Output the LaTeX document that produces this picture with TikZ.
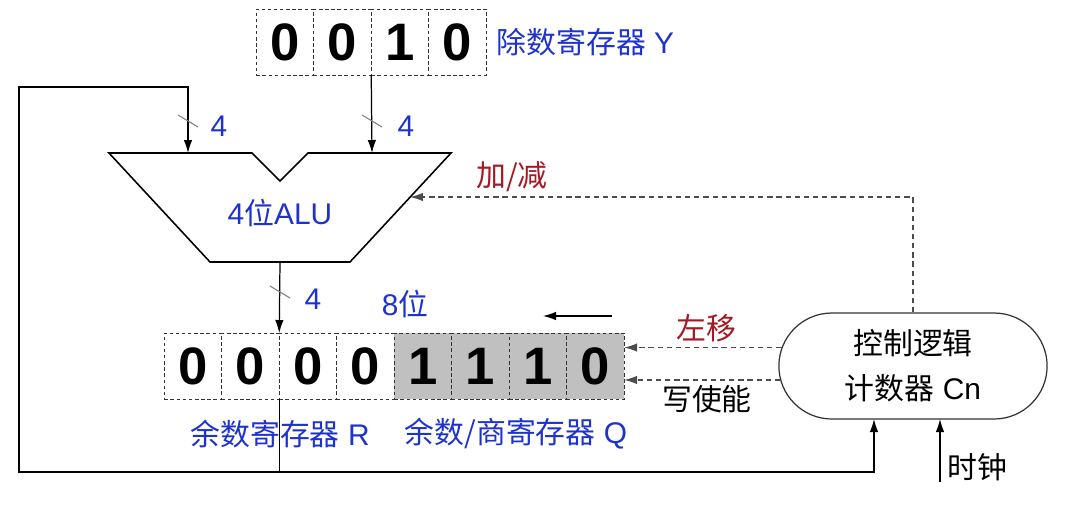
\documentclass[tikz,border=0pt]{standalone}
\usepackage{fontspec}
\setmainfont{Liberation Sans}
\newfontfamily\cjk{Noto Sans CJK SC}
\usepackage{tikz}
\usetikzlibrary{positioning,shapes.misc,arrows.meta}
\definecolor{regblue}{RGB}{30,50,205}
\definecolor{ctlred}{RGB}{165,25,35}
\definecolor{bitgray}{RGB}{192,192,192}

\begin{document}
\begin{tikzpicture}[x=0.02cm, y=-0.02cm, font=\fontsize{17}{25.5}\selectfont]
                \tikzstyle{cell} = [rectangle, draw=black!80, dash pattern=on 2pt off 1.5pt, line width=0.55pt, minimum width=1.15cm, minimum height=1.32cm, inner sep=0pt, outer sep=0pt, font=\fontsize{30}{32}\selectfont\bfseries]
                \tikzstyle{graycell} = [cell, fill=bitgray]
                \tikzstyle{ctlbox} = [rounded rectangle, draw=black!80, line width=0.7pt, minimum width=5.6cm, minimum height=2.12cm, align=center]
                \tikzstyle{blabel} = [text=regblue, inner sep=0pt]
                \tikzstyle{rlabel} = [text=ctlred, inner sep=0pt]
                \tikzstyle{arrow} = [line width=0.7pt, -{Latex[length=2.6mm,width=1.7mm]}]
                \tikzstyle{darrow} = [arrow, draw=black!70, dash pattern=on 3pt off 2.2pt]
                \tikzstyle{busmark} = [draw=gray, line width=0.6pt]
                \useasboundingbox (0,0) rectangle (1080,505);

                % divisor register
                \node (y1) [cell] at (285,42) {0};
                \node (y2) [cell, right=0pt of y1] {0};
                \node (y3) [cell, right=0pt of y2] {1};
                \node (y4) [cell, right=0pt of y3] {0};
                \node (ylab) [blabel, right=0.2cm of y4] {{\cjk 除数寄存器} Y};

                % ALU
                \draw [line width=0.9pt] (109,153) -- (252,153) -- (280,181) -- (308,153) -- (451,153) -- (350,262) -- (210,262) -- cycle;
                \node (alu) [blabel] at (280,213) {4{\cjk 位}ALU};
                \coordinate (inA) at (188,153);
                \coordinate (inB) at (372,153);
                \coordinate (aluout) at (280,262);
                \coordinate (addsub) at (410,197);

                % remainder / quotient register
                \node (r1) [cell] at (193,366) {0};
                \node (r2) [cell, right=0pt of r1] {0};
                \node (r3) [cell, right=0pt of r2] {0};
                \node (r4) [cell, right=0pt of r3] {0};
                \node (r5) [graycell, right=0pt of r4] {1};
                \node (r6) [graycell, right=0pt of r5] {1};
                \node (r7) [graycell, right=0pt of r6] {1};
                \node (r8) [graycell, right=0pt of r7] {0};
                \node (rlab) [blabel] at (280,434) {{\cjk 余数寄存器} R};
                \node (qlab) [blabel] at (516,434) {{\cjk 余数/商寄存器} Q};
                \node (bits) [blabel] at (405,304) {8{\cjk 位}};

                % control logic
                \node (ctrl) [ctlbox] at (913,366) {{\cjk 控制逻辑}\\{\cjk 计数器} Cn};
                \node (shl) [rlabel] at (706,328) {\cjk 左移};
                \node (wen) [inner sep=0pt] at (707,399) {\cjk 写使能};
                \node (pm) [rlabel] at (512,177) {\cjk 加/减};
                \node (clklab) [inner sep=0pt] at (977,467) {\cjk 时钟};

                \coordinate (lb) at (19,472);
                \coordinate (lt) at (19,87);
                \coordinate (clk) at (940,482);
                \coordinate (csgn) at (874,419);
                \coordinate (cclk) at (940,419);
                \coordinate (shA) at (612,316);
                \coordinate (shB) at (543,316);

                % data paths
                \draw [arrow] (y2.south east) -- (inB);
                \draw [arrow] (r2.south east) |- (lb) -- (lt) -| (inA);
                \draw [arrow] (r2.south east |- lb) -| (csgn);
                \draw [arrow] (aluout) -- (r2.north east);
                \draw [arrow] (clk) -- (cclk);
                \draw [arrow] (shA) -- (shB);

                % bus widths
                \draw [busmark] (178,115) -- (198,127);
                \draw [busmark] (362,115) -- (382,127);
                \draw [busmark] (270,286) -- (290,298);
                \node (wa) [blabel] at (219,126) {4};
                \node (wb) [blabel] at (406,126) {4};
                \node (wc) [blabel] at (313,299) {4};

                % control signals
                \draw [darrow] (ctrl.north) |- (addsub);
                \draw [darrow] (ctrl.172) -- (ctrl.172 -| r8.east);
                \draw [darrow] (ctrl.186) -- (ctrl.186 -| r8.east);

            \end{tikzpicture}
\end{document}
